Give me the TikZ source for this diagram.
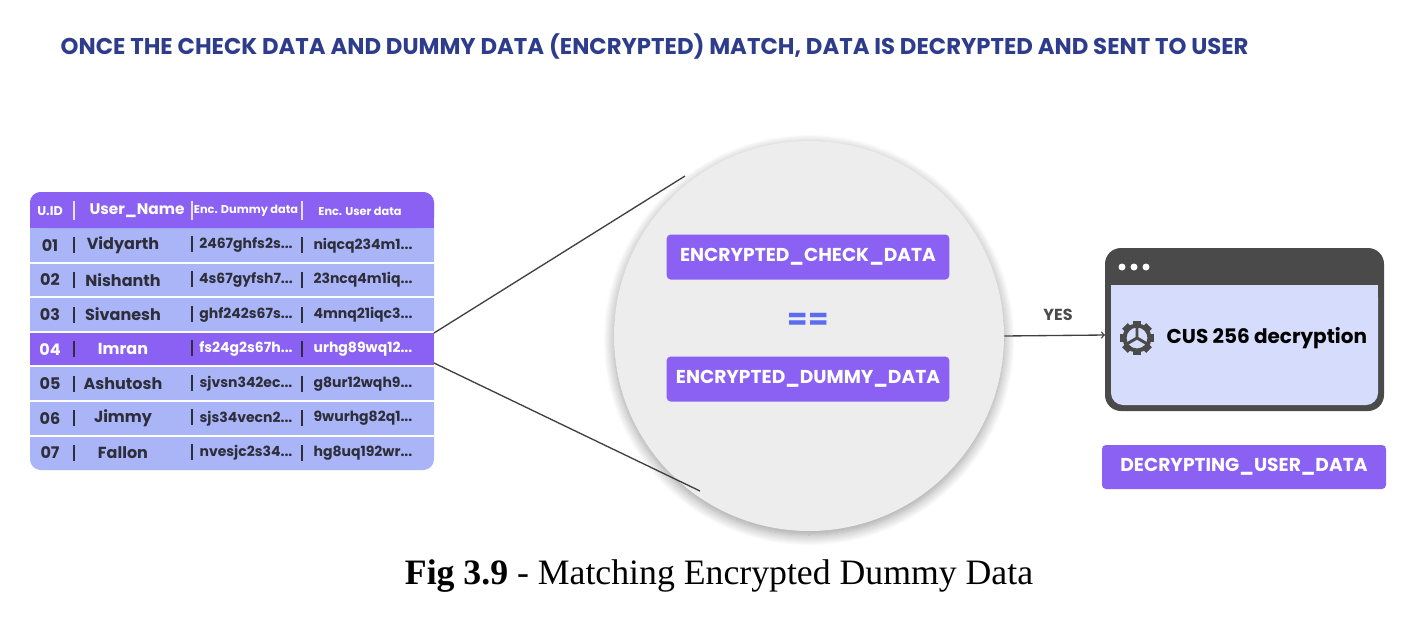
\documentclass[tikz,border=0pt]{standalone}
\usepackage{fontspec}
\setmainfont{Poppins}
\newfontfamily\capfont{Liberation Serif}
\usetikzlibrary{shadows.blur}
\definecolor{titleblue}{HTML}{2E3C8C}
\definecolor{purp}{HTML}{8A61F2}
\definecolor{rowbg}{HTML}{AAB5F8}
\definecolor{rowtxt}{HTML}{2E2E3A}
\definecolor{eqblue}{HTML}{5B6CF0}
\definecolor{winhead}{HTML}{4A4A4A}
\definecolor{winbody}{HTML}{D6DCFB}
\newcommand\mydts{...}
\tikzset{
  px/.style={x=0.75pt,y=-0.75pt},
  cell/.style={font=\fontsize{12}{14}\selectfont\bfseries, text=rowtxt},
  hcell/.style={font=\fontsize{8.5}{10}\selectfont\bfseries, text=white},
  tag/.style={fill=purp, rounded corners=3pt, text=white, font=\fontsize{14}{16}\selectfont\bfseries, minimum height=33.75pt, inner xsep=6pt},
  bar/.style={draw=rowtxt, line width=1pt},
  conn/.style={draw=black!75, line width=1pt}
}
\begin{document}
\begin{tikzpicture}[px]
\useasboundingbox (0,0) rectangle (1422,625);
\node[anchor=west, text=titleblue, font=\fontsize{17.1}{20}\selectfont\bfseries] (title) at (56,46) {ONCE THE CHECK DATA AND DUMMY DATA (ENCRYPTED) MATCH, DATA IS DECRYPTED AND SENT TO USER};
% table
\fill[rowbg, rounded corners=8pt] (30,192) rectangle (434,470);
\fill[purp, rounded corners=8pt] (30,192) rectangle (434,228);
\fill[purp] (30,215) rectangle (434,228);
\foreach \i in {1,2,3,4,5,6} { \fill[white] (30,{228+\i*34.6-1}) rectangle (434,{228+\i*34.6+1}); }
\fill[purp] (30,332.8) rectangle (434,365.2);
\node[hcell, font=\fontsize{9.5}{10}\selectfont\bfseries] (h1) at (50,211) {U.ID};
\node[hcell, font=\fontsize{11.5}{12}\selectfont\bfseries] (h2) at (137,211) {User\_Name};
\node[hcell] (h3) at (246,211) {Enc. Dummy data};
\node[hcell] (h4) at (360,211) {Enc. User data};
\draw[white!80!purp, line width=0.8pt] (74,201)--(74,220) (192,201)--(192,220) (302,201)--(302,220);
\foreach \n/\id/\name/\d/\u in {0/01/Vidyarth/2467ghfs2s/niqcq234m1,1/02/Nishanth/4s67gyfsh7/23ncq4m1iq,2/03/Sivanesh/ghf242s67s/4mnq21iqc3,3/04/Imran/fs24g2s67h/urhg89wq12,4/05/Ashutosh/sjvsn342ec/g8ur12wqh9,5/06/Jimmy/sjs34vecn2/9wurhg82q1,6/07/Fallon/nvesjc2s34/hg8uq192wr}{
  \pgfmathsetmacro{\yy}{245.3+\n*34.6}
  \ifnum\n=3 \def\tc{white}\else\def\tc{rowtxt}\fi
  \node[cell, text=\tc] (id\n) at (50,\yy) {\id};
  \node[cell, text=\tc] (nm\n) at (123,\yy) {\name};
  \node[cell, text=\tc, font=\fontsize{10.5}{12}\selectfont\bfseries] (dd\n) at (246,\yy) {\d\mydts};
  \node[cell, text=\tc, font=\fontsize{10.5}{12}\selectfont\bfseries] (ud\n) at (363,\yy) {\u\mydts};
  \draw[bar] (74,\yy-8)--(74,\yy+8) (192,\yy-9)--(192,\yy+7) (302,\yy-8)--(302,\yy+8);
}
\coordinate (t1) at (434,333);
\coordinate (t2) at (434,363);
% circle
\node[circle, minimum size=292.5pt, fill=black!7, blur shadow={shadow blur steps=12, shadow xshift=0pt, shadow yshift=-3pt, shadow blur radius=8pt}] (lens) at (809,336) {};
\coordinate (c1) at (685,176);
\coordinate (c2) at (700,491);
\draw[conn] (t1) -- (c1);
\draw[conn] (t2) -- (c2);
\node[tag, minimum width=212pt] (check) at (808,257) {ENCRYPTED\_CHECK\_DATA};
\node[tag, minimum width=212pt] (dummy) at (808,379) {ENCRYPTED\_DUMMY\_DATA};
\node[text=eqblue, font=\fontsize{22}{24}\selectfont\bfseries] (eq) at (808,321) {==};
% window
\fill[winhead, rounded corners=12pt] (1105,248) rectangle (1384,411);
\fill[winbody, rounded corners=9pt] (1111,285) rectangle (1378,405);
\fill[winbody] (1111,285) rectangle (1378,300);
\foreach \x in {1122,1134,1146} \fill[white] (\x,267) circle (3.5);
\coordinate (win) at (1105,335);
\node[anchor=west, font=\fontsize{15}{18}\selectfont\bfseries, text=black] (cus) at (1162,338) {CUS 256 decryption};
% gear
\begin{scope}[shift={(1137,338)}]
  \foreach \a in {0,45,...,315} \fill[winhead, rotate=\a] (-4,-17) rectangle (4,-11);
  \draw[winhead, line width=3pt] (0,0) circle (12.5);
  \draw[winhead, line width=2.2pt] (0,0)--(0,-11) (0,0)--(-9.5,5.5) (0,0)--(9.5,5.5);
\end{scope}
\draw[conn, ->] (lens.east) -- (win);
\node[text=black!70, font=\fontsize{12}{14}\selectfont\bfseries] (yes) at (1058,315) {YES};
\node[tag, minimum width=213pt, minimum height=33pt] (dec) at (1244,467) {DECRYPTING\_USER\_DATA};
% caption
\node[font=\capfont\fontsize{26.8}{30}\selectfont] (cap) at (719,576) {\textbf{Fig 3.9} - Matching Encrypted Dummy Data};
\end{tikzpicture}
\end{document}
